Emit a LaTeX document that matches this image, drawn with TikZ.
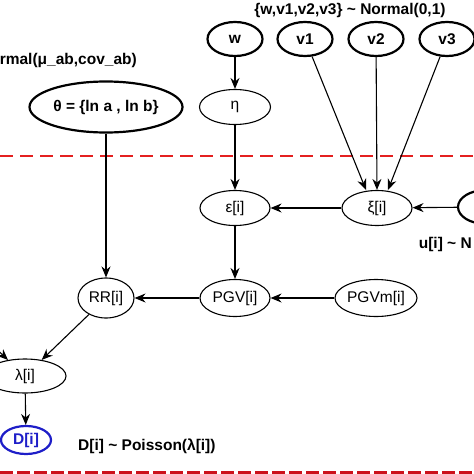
\documentclass[tikz,border=0pt]{standalone}
\usepackage{fontspec}
\setmainfont{Liberation Sans}
\usetikzlibrary{shapes.geometric,arrows.meta}
\definecolor{lineRed}{RGB}{228,32,32}
\definecolor{baseRed}{RGB}{204,18,28}
\definecolor{obsBlue}{RGB}{30,30,200}

\begin{document}
\begin{tikzpicture}[x=1pt,y=-1pt,
	font=\fontsize{15.5}{18}\selectfont,
	var/.style={draw, ellipse, line width=1.1pt, inner sep=0pt, minimum width=70pt, minimum height=35pt},
	prior/.style={var, line width=2.2pt, font=\fontsize{15.5}{18}\selectfont\bfseries, minimum width=55pt, minimum height=34pt},
	link/.style={-{Stealth[length=11pt,width=9pt]}, line width=1.1pt},
	note/.style={font=\fontsize{15.5}{18}\selectfont\bfseries, inner sep=0pt}]
	\useasboundingbox (0,0) rectangle (474,474);

	% priors
	\node[prior] (w) at (235,39) {w};
	\node[prior] (v1) at (305,39) {v1};
	\node[prior] (v2) at (376,39) {v2};
	\node[prior] (v3) at (447,39) {v3};
	\node[prior, minimum width=153pt, minimum height=51pt] (theta) at (106,107) {θ = \{ln a , ln b\}};
	\node[prior, minimum width=56pt] (u) at (486,207) {};

	\node[var, minimum width=71pt] (eta) at (235,107) {η};
	\node[var] (eps) at (235,208) {ε[i]};
	\node[var] (xi) at (377,208) {ξ[i]};
	\node[var, minimum height=37pt] (pgv) at (235,298) {PGV[i]};
	\node[var, minimum width=82pt, minimum height=37pt] (pgvm) at (376,298) {PGVm[i]};
	\node[var, minimum width=56pt, minimum height=40pt] (rr) at (106,298) {RR[i]};
	\node[var, minimum width=82pt, minimum height=34pt] (lam) at (25,376) {λ[i]};
	\node[var, draw=obsBlue, text=obsBlue, line width=2.2pt, font=\fontsize{15.5}{18}\selectfont\bfseries, minimum width=50pt, minimum height=28pt] (D) at (26,440) {D[i]};
	\coordinate (lamin) at (-45,310);

	% labels
	\node[note] (lblv) at (350,10) {\{w,v1,v2,v3\} \textasciitilde{} Normal(0,1)};
	\node[note, anchor=east] (lbltheta) at (137,60) {rmal(μ\_ab,cov\_ab)};
	\node[note, anchor=east] (lblu) at (472,244) {u[i] \textasciitilde{} N};
	\node[note, anchor=west] (lblD) at (78,446) {D[i] \textasciitilde{} Poisson(λ[i])};

	% plates
	\draw[lineRed, line width=2pt, dash pattern=on 13pt off 7pt] (0,156) -- (474,156);
	\draw[baseRed, line width=3.5pt, dash pattern=on 13pt off 4pt] (0,472.5) -- (474,472.5);

	% links
	\draw[link, line width=1.4pt] (w) -- (eta);
	\draw[link] (eta) -- (eps);
	\draw[link] (v1) -- ([xshift=-11pt]xi.north);
	\draw[link] (v2) -- (xi.north);
	\draw[link] (v3) -- ([xshift=11pt]xi.north);
	\draw[link] (u) -- (xi);
	\draw[link] (xi) -- (eps);
	\draw[link] (eps) -- (pgv);
	\draw[link] (pgvm) -- (pgv);
	\draw[link] (pgv) -- (rr);
	\draw[link] (theta) -- (rr);
	\draw[link] (rr) -- (lam);
	\draw[link] (lamin) -- (lam);
	\draw[link] (lam) -- (D);
\end{tikzpicture}
\end{document}
